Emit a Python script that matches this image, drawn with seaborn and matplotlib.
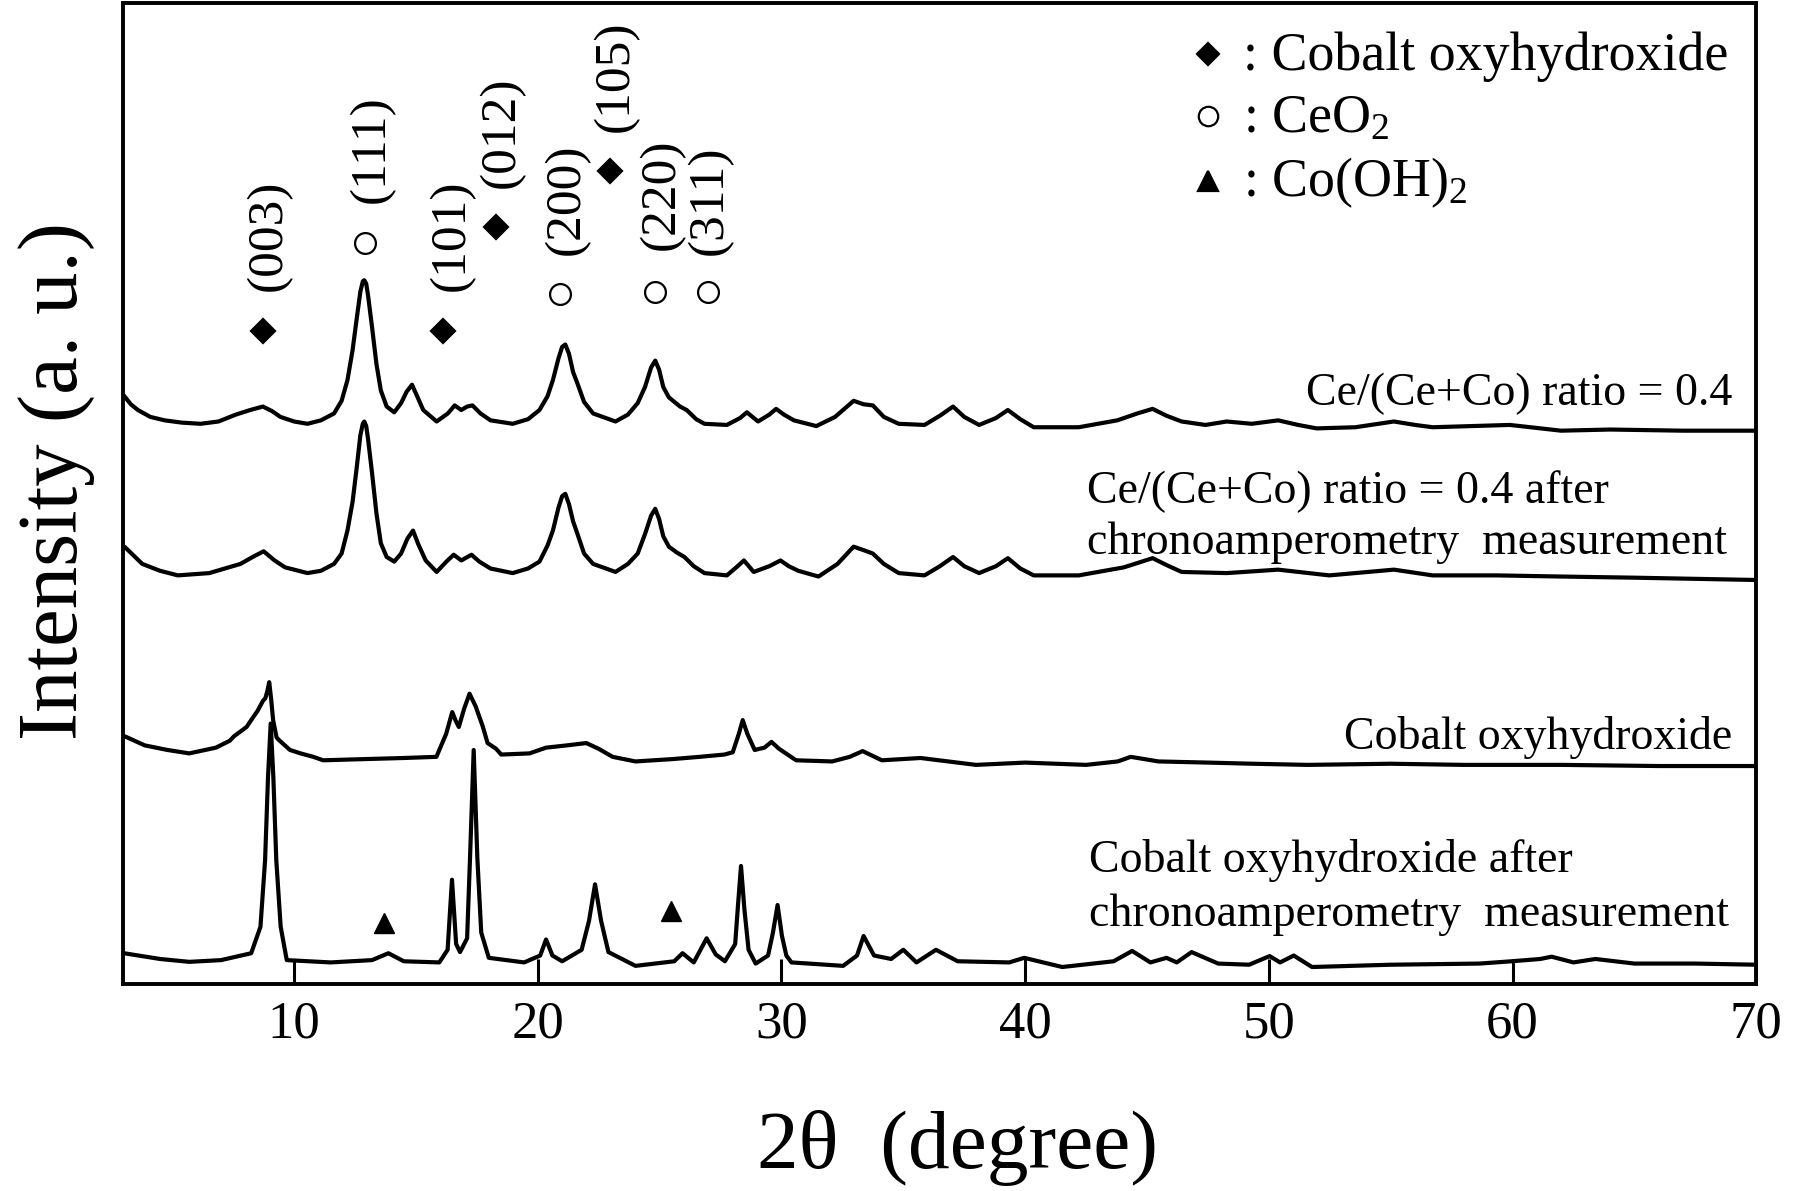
import numpy as np
import pandas as pd
import matplotlib
matplotlib.use("Agg")
import matplotlib.pyplot as plt
import seaborn as sns

# ---------------- data (2theta in degree, intensity in a.u., traces stacked) -------------
ce04_x = [3.00, 3.30, 3.59, 4.10, 4.69, 5.40, 6.16, 6.90, 7.61, 8.20, 8.72, 9.10, 9.44, 10.00,
          10.55, 11.10, 11.64, 11.95, 12.19, 12.40, 12.56, 12.72, 12.82, 12.88, 12.96, 13.04,
          13.20, 13.38, 13.56, 13.80, 14.11, 14.39, 14.62, 14.84, 15.05, 15.30, 15.85, 16.31,
          16.59, 16.86, 17.10, 17.32, 17.65, 18.06, 18.97, 19.60, 20.07, 20.40, 20.62, 20.85,
          21.00, 21.13, 21.28, 21.45, 21.63, 21.90, 22.27, 23.19, 23.70, 24.10, 24.40, 24.65,
          24.82, 24.98, 25.15, 25.38, 25.84, 26.11, 26.50, 26.84, 27.76, 28.30, 28.58, 29.04,
          29.50, 29.78, 30.10, 30.51, 31.43, 32.20, 32.96, 33.37, 33.75, 34.20, 34.81, 35.87,
          36.50, 37.04, 37.50, 38.11, 38.80, 39.29, 39.80, 40.35, 42.20, 43.78, 44.60, 45.23,
          45.80, 46.42, 47.40, 48.27, 49.30, 50.38, 51.20, 51.96, 53.55, 55.13, 56.00, 56.72,
          58.30, 59.89, 61.99, 64.00, 67.00, 70.00]
ce04_y = [513, 505, 500, 494, 491, 489, 488, 490, 496, 500, 503, 499, 494, 490,
          488, 491, 497, 508, 526, 552, 578, 603, 612, 613, 610, 599,
          572, 540, 517, 503, 498, 506, 516, 522, 512, 500, 490, 497,
          504, 500, 503, 504, 497, 491, 488, 492, 500, 512, 526, 545,
          555, 557, 549, 533, 523, 507, 497, 490, 496, 506, 520, 537,
          543, 535, 520, 511, 503, 500, 492, 488, 487, 493, 498, 490,
          496, 501, 496, 491, 486, 494, 508, 505, 504, 494, 488, 487,
          495, 503, 494, 487, 493, 500, 492, 485, 485, 491, 497, 501,
          495, 490, 487, 490, 488, 491, 487, 484, 485, 490, 487, 485,
          486, 487, 482, 483, 482, 482]

ce04_ca_x = [3.04, 3.77, 4.50, 5.23, 6.52, 7.80, 8.30, 8.75, 9.20, 9.63, 10.55, 11.10, 11.64,
             11.95, 12.19, 12.40, 12.56, 12.72, 12.82, 12.88, 12.96, 13.04, 13.20, 13.38, 13.56,
             13.80, 14.11, 14.39, 14.65, 14.88, 15.10, 15.40, 15.85, 16.25, 16.55, 16.86, 17.28,
             17.60, 18.06, 18.97, 19.60, 20.07, 20.40, 20.62, 20.85, 21.00, 21.13, 21.28, 21.45,
             21.63, 21.90, 22.27, 23.19, 23.70, 24.10, 24.40, 24.65, 24.82, 24.98, 25.15, 25.38,
             25.70, 26.02, 26.40, 26.84, 27.76, 28.20, 28.46, 28.86, 29.50, 29.96, 30.30, 30.69,
             31.52, 32.30, 32.96, 33.37, 33.75, 34.20, 34.81, 35.87, 36.50, 37.04, 37.50, 38.11,
             38.80, 39.29, 39.80, 40.35, 42.20, 44.05, 45.23, 45.80, 46.42, 48.27, 50.38, 52.48,
             55.13, 56.72, 59.35, 62.00, 65.00, 70.00]
ce04_ca_y = [381, 366, 360, 356, 358, 366, 372, 377, 369, 363, 358, 360, 366,
             375, 395, 420, 448, 478, 488, 490, 486, 474, 445, 410, 384,
             372, 368, 375, 388, 395, 383, 369, 359, 368, 374, 369, 374,
             368, 362, 358, 362, 368, 382, 395, 415, 425, 427, 418, 403,
             392, 375, 366, 359, 366, 375, 392, 408, 414, 405, 390, 381,
             376, 372, 364, 358, 356, 364, 369, 359, 364, 369, 364, 360,
             355, 366, 381, 378, 375, 366, 358, 356, 364, 372, 364, 358,
             364, 371, 362, 356, 356, 363, 371, 365, 359, 358, 361, 356,
             361, 356, 356, 355, 354, 352]

cooh_x = [3.04, 3.87, 4.80, 5.70, 6.79, 7.36, 7.54, 8.05, 8.24, 8.50, 8.73, 8.82, 8.90, 8.98,
          9.06, 9.14, 9.28, 9.36, 9.83, 10.27, 10.79, 11.19, 12.83, 14.50, 15.84, 16.24, 16.49,
          16.62, 16.76, 16.98, 17.20, 17.45, 17.75, 17.94, 18.29, 18.50, 19.66, 20.34, 21.20,
          21.99, 22.50, 23.07, 24.01, 25.50, 26.64, 27.66, 28.00, 28.25, 28.41, 28.60, 28.90,
          29.30, 29.59, 29.90, 30.60, 32.08, 32.80, 33.33, 34.12, 35.71, 37.98, 40.00, 42.50,
          43.80, 44.33, 45.47, 47.50, 49.33, 51.59, 55.00, 58.00, 62.03, 66.00, 70.00]
cooh_y = [216, 208, 204, 201, 206, 212, 216, 224, 230, 238, 247, 249, 255, 263,
          248, 230, 215, 213, 204, 201, 198, 195, 196, 197, 198, 218, 237,
          230, 224, 240, 253, 242, 224, 210, 205, 200, 201, 206, 208,
          210, 205, 198, 194, 196, 198, 200, 202, 218, 230, 218, 204,
          206, 211, 205, 195, 194, 198, 203, 195, 197, 191, 193, 191,
          194, 198, 194, 193, 192, 191, 192, 191, 191, 190, 190]

cooh_ca_x = [3.02, 4.50, 5.70, 7.00, 8.24, 8.62, 8.81, 8.93, 9.04, 9.15, 9.27, 9.45, 9.70,
             11.50, 13.20, 13.87, 14.50, 15.96, 16.30, 16.48, 16.65, 16.81, 17.10, 17.22, 17.37,
             17.52, 17.68, 17.99, 19.44, 20.10, 20.34, 20.60, 21.00, 21.80, 22.10, 22.35, 22.60,
             22.90, 24.01, 25.60, 25.94, 26.40, 26.93, 27.30, 27.68, 28.10, 28.22, 28.34, 28.48,
             28.65, 28.94, 29.45, 29.65, 29.84, 30.02, 30.20, 30.41, 32.53, 33.10, 33.37, 33.80,
             34.50, 35.00, 35.54, 36.34, 37.23, 39.35, 39.96, 41.52, 43.63, 44.39, 45.14, 45.80,
             46.22, 46.83, 47.92, 49.19, 50.03, 50.46, 51.02, 51.77, 55.00, 58.64, 59.96, 61.14,
             61.60, 62.50, 63.40, 65.00, 67.50, 70.00]
cooh_ca_y = [27, 22, 19.5, 21, 27, 50, 108, 180, 227, 180, 108, 50, 21,
             19, 21, 27, 20, 19, 30, 91, 35, 28, 40, 110, 204,
             110, 45, 23, 19, 25, 39, 25, 20, 30, 55, 87, 55,
             28, 16, 20, 27, 19, 40, 26, 20, 35, 70, 103, 65,
             30, 18, 25, 45, 69, 42, 25, 19, 16, 25, 42, 25,
             22, 30, 19, 30, 20, 19, 23, 15, 20, 29, 19, 23,
             19, 28, 18, 17, 24.5, 19, 25, 15, 17, 18, 20, 22,
             24, 19, 22, 18, 18, 17]

curve_names = ["Ce/(Ce+Co) ratio = 0.4",
               "Ce/(Ce+Co) ratio = 0.4 after chronoamperometry measurement",
               "Cobalt oxyhydroxide",
               "Cobalt oxyhydroxide after chronoamperometry measurement"]

# peak assignments
peak_labels = ["(003)", "(111)", "(101)", "(012)", "(200)", "(105)", "(220)", "(311)"]
peak_phase = ["Cobalt oxyhydroxide", "CeO2", "Cobalt oxyhydroxide", "Cobalt oxyhydroxide",
              "CeO2", "Cobalt oxyhydroxide", "CeO2", "CeO2"]
peak_mark_x = [8.71, 12.90, 16.13, 18.27, 20.91, 22.98, 24.81, 27.00]
peak_mark_y = [569, 645, 569, 659, 601, 708, 603, 603]
peak_text_x = [8.94, 13.18, 16.47, 18.51, 21.18, 23.21, 25.10, 27.05]
peak_text_y = [604, 680, 604, 693, 635, 742, 639, 635]

coh2_x = [13.71, 25.46]
coh2_y = [53, 64]

legend_phases = ["Cobalt oxyhydroxide", "CeO2", "Co(OH)2"]
legend_texts = [": Cobalt oxyhydroxide", ": CeO$_2$", ": Co(OH)$_2$"]
legend_y = [810, 756, 699]
legend_text_y = [796, 742, 686]

x_ticks = [10, 20, 30, 40, 50, 60, 70]

# ---------------- styling -------------
sns.set_theme(style="white")
plt.rcParams["font.family"] = ["Liberation Serif", "DejaVu Serif"]
plt.rcParams["mathtext.fontset"] = "custom"
plt.rcParams["mathtext.rm"] = "Liberation Serif"
plt.rcParams["mathtext.it"] = "Liberation Serif:italic"
plt.rcParams["mathtext.bf"] = "Liberation Serif:bold"
plt.rcParams["text.color"] = "black"
plt.rcParams["axes.labelcolor"] = "black"
plt.rcParams["xtick.color"] = "black"
plt.rcParams["ytick.color"] = "black"

fig = plt.figure(figsize=(18, 11.91), dpi=100)
ax = fig.add_axes([0.0682, 0.1736, 0.9075, 0.8235])

frames = []
for name, xs, ys in zip(curve_names,
                        [ce04_x, ce04_ca_x, cooh_x, cooh_ca_x],
                        [ce04_y, ce04_ca_y, cooh_y, cooh_ca_y]):
    frames.append(pd.DataFrame({"two_theta": xs, "intensity": ys, "pattern": name}))
df = pd.concat(frames, ignore_index=True)

sns.lineplot(data=df, x="two_theta", y="intensity", hue="pattern",
             palette=["black"] * 4, legend=False, sort=False, estimator=None,
             linewidth=3.0, ax=ax)

marker_map = {"Cobalt oxyhydroxide": "D", "CeO2": "o", "Co(OH)2": "^"}
size_map = {"Cobalt oxyhydroxide": 12, "CeO2": 15, "Co(OH)2": 15}

for lab, ph, mx, my, tx, ty in zip(peak_labels, peak_phase, peak_mark_x, peak_mark_y,
                                   peak_text_x, peak_text_y):
    filled = ph != "CeO2"
    ax.plot([mx], [my], marker=marker_map[ph], ms=size_map[ph], linestyle="none",
            mfc="black" if filled else "none", mec="black", mew=1.6)
    ax.text(tx, ty, lab, rotation=90, ha="center", va="bottom", fontsize=37)

ax.plot(coh2_x, coh2_y, marker="^", ms=15, linestyle="none", color="black")

# legend of phases
for ph, txt, ly, ty in zip(legend_phases, legend_texts, legend_y, legend_text_y):
    filled = ph != "CeO2"
    ax.plot([47.49], [ly], marker=marker_map[ph], ms=size_map[ph] - 1, linestyle="none",
            mfc="black" if filled else "none", mec="black", mew=1.6)
    ax.text(48.95, ty, txt, ha="left", va="baseline", fontsize=38.8)

# curve labels
ax.text(69.0, 504, "Ce/(Ce+Co) ratio = 0.4", ha="right", va="baseline", fontsize=33)
ax.text(42.52, 419, "Ce/(Ce+Co) ratio = 0.4 after", ha="left", va="baseline", fontsize=33)
ax.text(42.52, 375, "chronoamperometry  measurement", ha="left", va="baseline", fontsize=33)
ax.text(69.0, 205, "Cobalt oxyhydroxide", ha="right", va="baseline", fontsize=33)
ax.text(42.62, 98, "Cobalt oxyhydroxide after", ha="left", va="baseline", fontsize=33)
ax.text(42.62, 51, "chronoamperometry  measurement", ha="left", va="baseline", fontsize=33)

ax.set_xlim(2.97, 70)
ax.set_ylim(0, 854)
ax.set_xticks(x_ticks)
ax.set_xticklabels([str(t) for t in x_ticks])
ax.set_yticks([])
ax.tick_params(axis="x", direction="in", length=18, width=2.2, pad=12,
               labelsize=38, bottom=True, top=False, colors="black")
ax.set_xlabel("2θ  (degree)", fontsize=60, labelpad=44, x=0.511)
ax.set_ylabel("Intensity (a. u.)", fontsize=61, labelpad=20, y=0.513)
for sp in ax.spines.values():
    sp.set_visible(True)
    sp.set_color("black")
    sp.set_linewidth(2.8)

fig.savefig("out.png", dpi=100)
